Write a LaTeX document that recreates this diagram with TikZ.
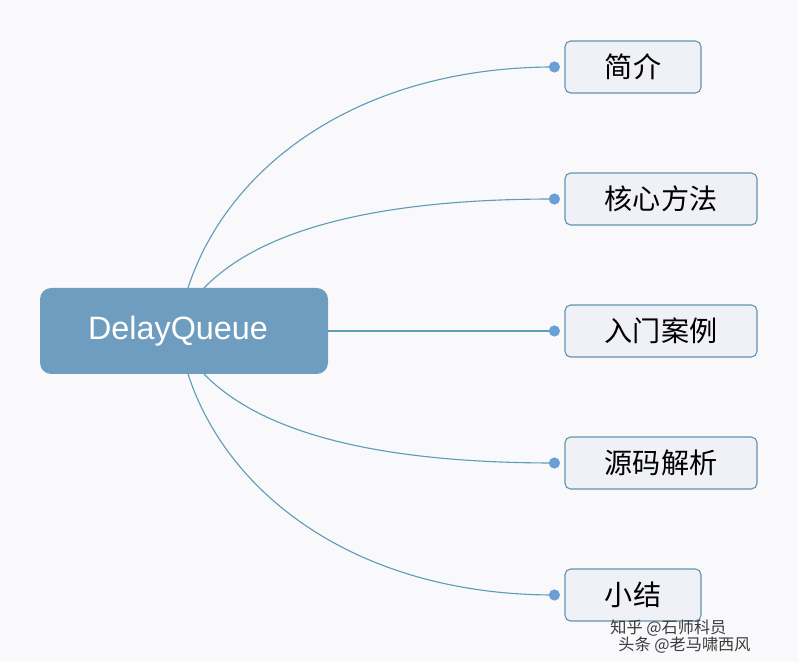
\documentclass[tikz,border=0pt]{standalone}
\usepackage{fontspec}
\usepackage{xcolor}
\setmainfont{Liberation Sans}
\newfontfamily\cjk{Noto Sans CJK SC}
\usetikzlibrary{
    backgrounds,
    positioning
}
\definecolor{pagebg}{HTML}{F9F9FC}
\definecolor{rootblue}{HTML}{6F9DC0}
\definecolor{boxfill}{HTML}{F0F1F6}
\definecolor{boxline}{HTML}{6593B0}
\definecolor{linkline}{HTML}{5F9DB5}
\definecolor{dotblue}{HTML}{6A9FD6}
\definecolor{markgrey}{HTML}{3A3A3A}

\begin{document}
\begin{tikzpicture}[semithick]
    \tikzset{
        rootbox/.style={shape=rectangle, rounded corners=8pt, fill=rootblue, text=white, minimum width=7.2cm, minimum height=2.15cm, font=\fontsize{23}{26}\selectfont},
        topicbox/.style={shape=rectangle, rounded corners=4pt, draw=boxline, line width=0.8pt, fill=boxfill, minimum height=1.3cm, font=\cjk\fontsize{20}{24}\selectfont},
        shortbox/.style={topicbox, minimum width=3.4cm},
        longbox/.style={topicbox, minimum width=4.8cm},
        dotmark/.style={shape=circle, fill=dotblue, inner sep=0pt, minimum size=0.28cm},
        link/.style={draw=linkline, line width=0.8pt},
        watermark/.style={text=markgrey, font=\cjk\fontsize{11.5}{14}\selectfont, inner sep=0pt}
    }
    \useasboundingbox (0,0) rectangle (19.95,16.55);

    \node[rootbox] (root) at (4.6,8.275) {DelayQueue\rule{0.3cm}{0pt}};

    \node[shortbox] (intro) at (15.825,14.875) {简介};
    \node[longbox] (core) at (16.525,11.575) {核心方法};
    \node[longbox] (start) at (16.525,8.275) {入门案例};
    \node[longbox] (source) at (16.525,4.975) {源码解析};
    \node[shortbox] (summary) at (15.825,1.675) {小结};

    \node[dotmark, left=0.1cm of intro] (dota) {};
    \node[dotmark, left=0.1cm of core] (dotb) {};
    \node[dotmark, left=0.1cm of start] (dotc) {};
    \node[dotmark, left=0.1cm of source] (dotd) {};
    \node[dotmark, left=0.1cm of summary] (dote) {};

    \coordinate (nwa) at (4.7,9.35);
    \coordinate (nwb) at (5.1,9.35);
    \coordinate (swa) at (4.7,7.2);
    \coordinate (swb) at (5.1,7.2);

    \begin{scope}[on background layer]
    \fill[pagebg] (0,0) rectangle (19.95,16.55);
    \draw[link] (nwa) .. controls (5.7,12.425) and (9.0,14.875) .. (dota.center);
    \draw[link] (nwb) .. controls (6.625,10.925) and (9.75,11.575) .. (dotb.center);
    \draw[link] (root.east) -- (dotc.center);
    \draw[link] (swb) .. controls (6.625,5.625) and (9.75,4.975) .. (dotd.center);
    \draw[link] (swa) .. controls (5.7,4.125) and (9.0,1.675) .. (dote.center);
    \end{scope}

    \node[watermark, anchor=west] (markz) at (15.25,0.85) {知乎 @石师科员};
    \node[watermark, anchor=west] (markt) at (15.45,0.42) {头条 @老马啸西风};
\end{tikzpicture}
\end{document}
